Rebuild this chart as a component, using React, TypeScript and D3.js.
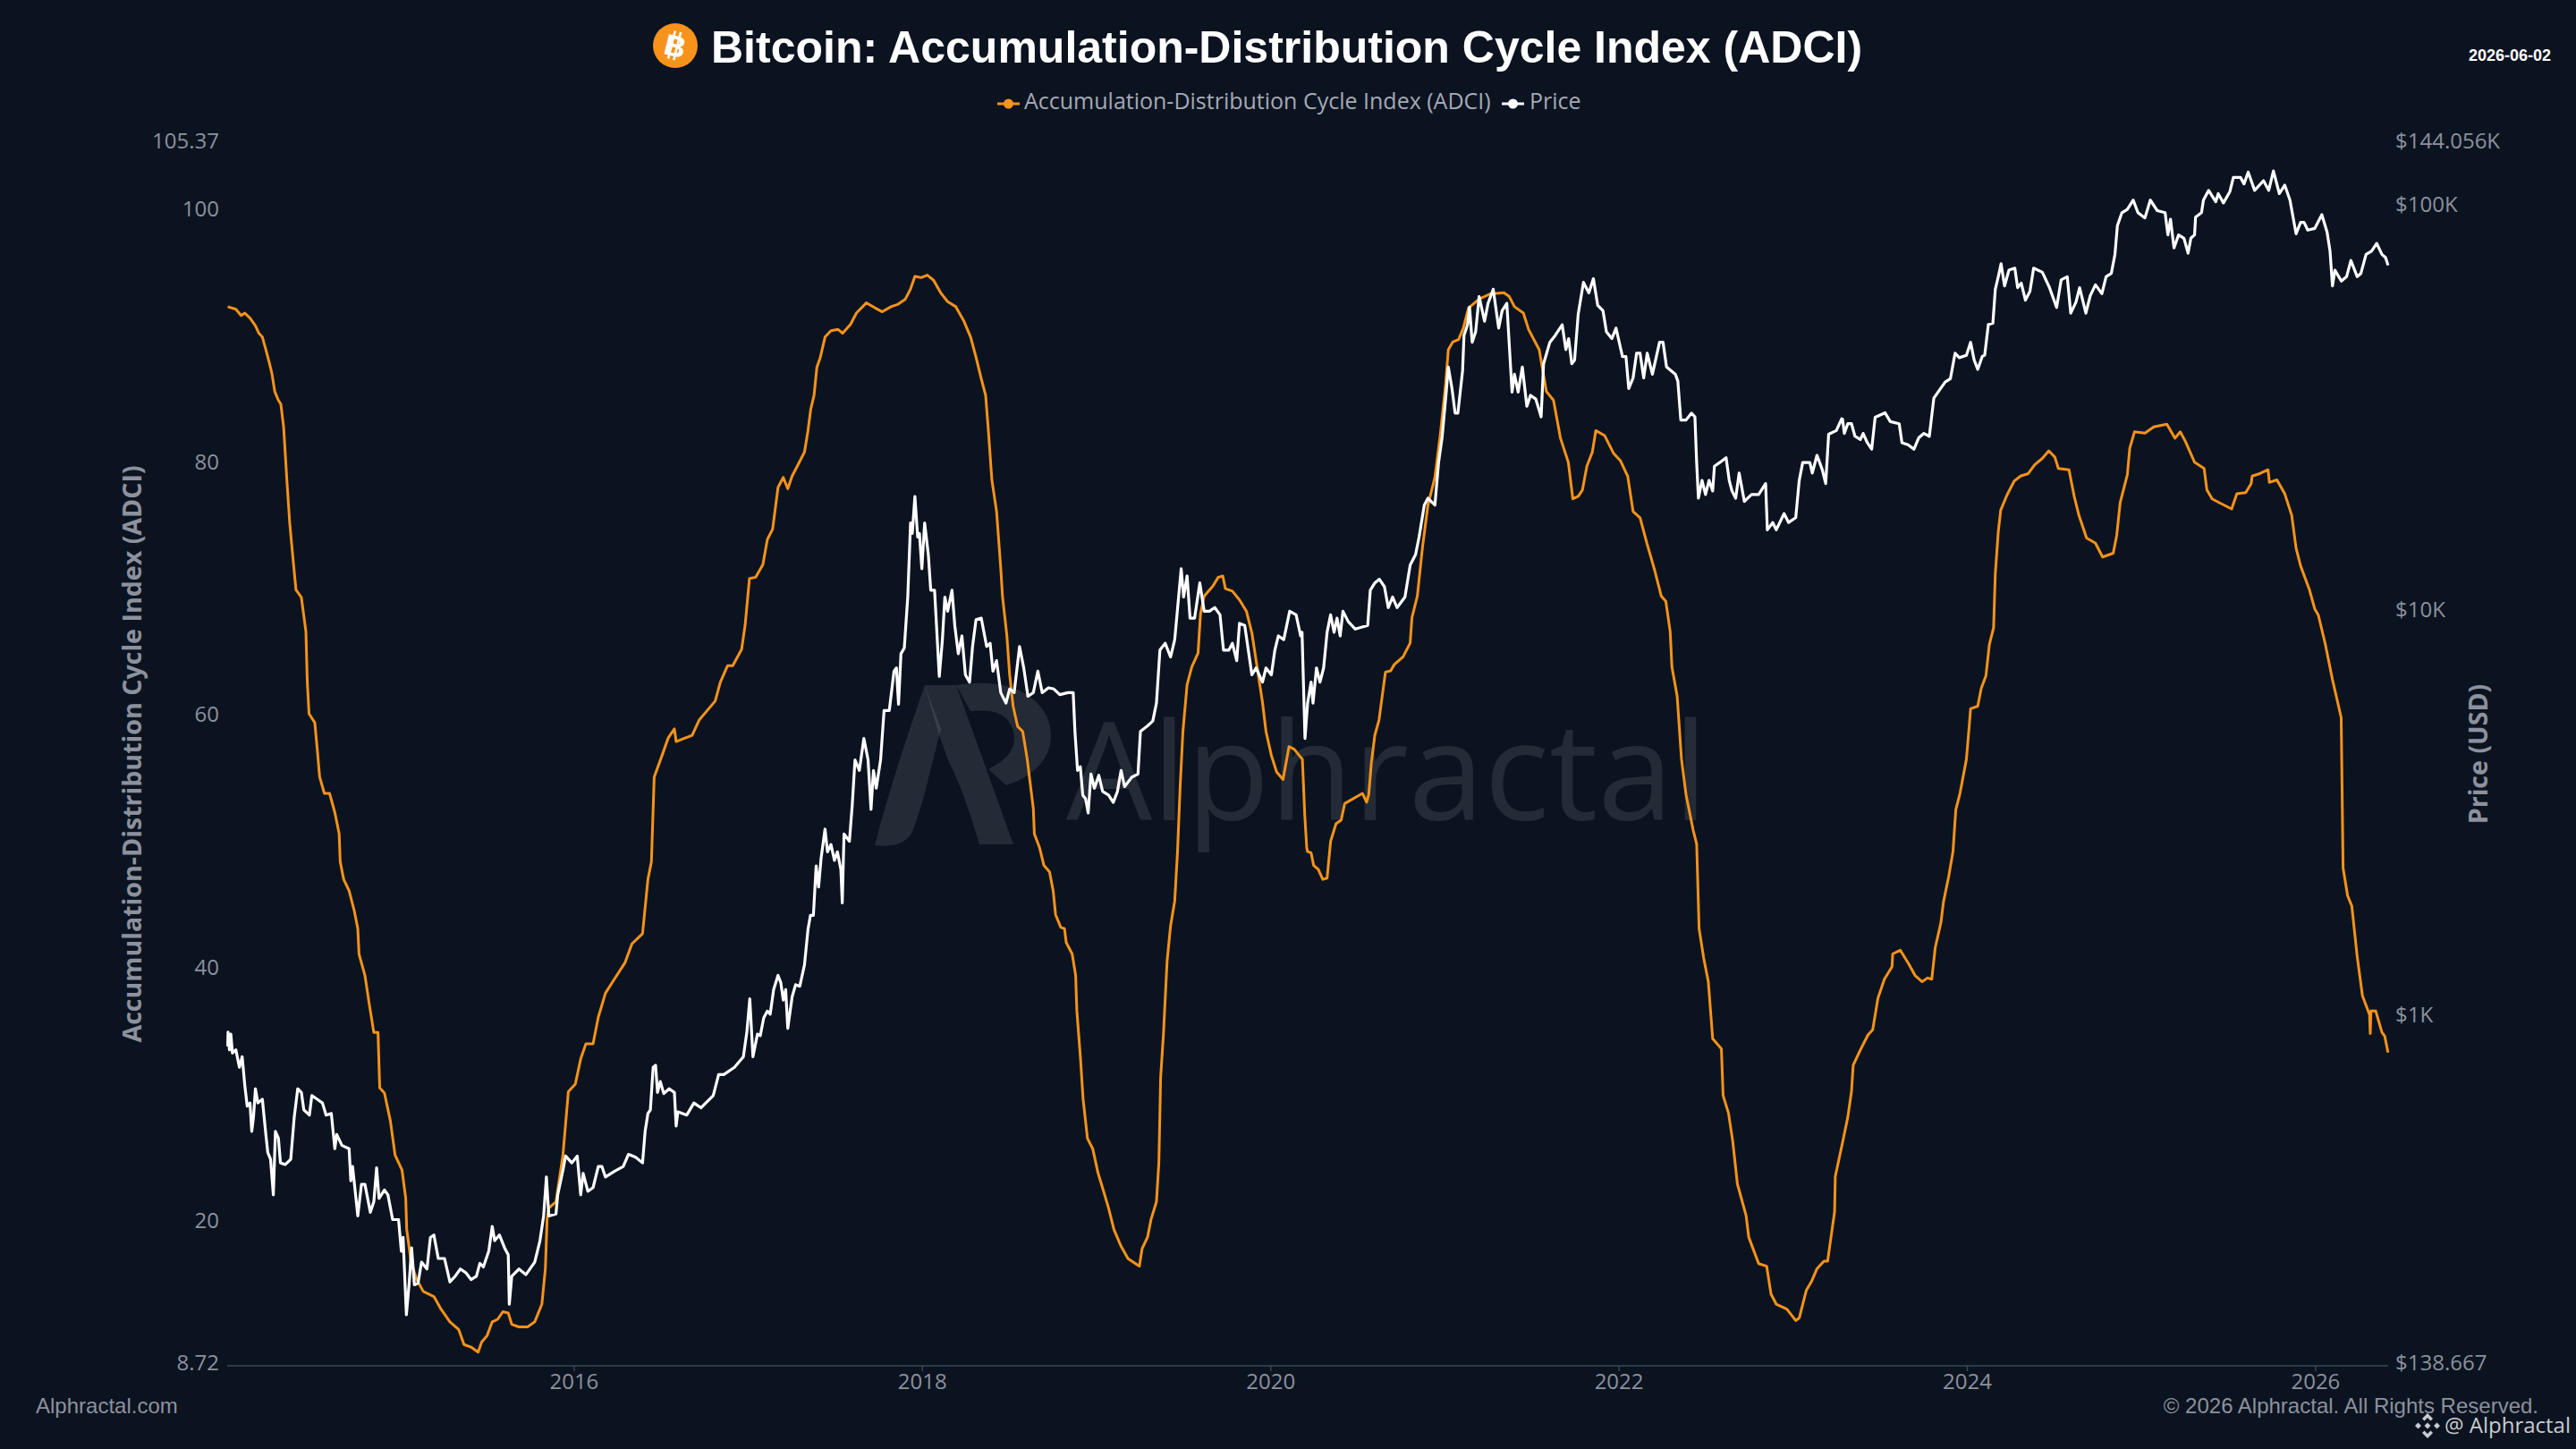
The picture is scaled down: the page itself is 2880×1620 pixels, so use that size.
import React from "react";
import * as d3 from "d3";

type P = [number, number];

// ADCI readings: [decimal year, index value]
const adci2014: P[] = [[2014.003,92.5],[2014.05,92.3],[2014.08,91.8],[2014.101,92],[2014.131,91.6],[2014.162,91],[2014.182,90.4],[2014.202,90.1],[2014.222,89.1],[2014.243,88],[2014.257,87.2],[2014.273,85.8],[2014.294,85.1],[2014.308,84.8],[2014.324,83],[2014.344,78.5],[2014.359,75.4],[2014.379,72.4],[2014.395,70.1],[2014.426,69.5],[2014.452,66.8],[2014.46,62.8],[2014.47,60.3],[2014.503,59.6],[2014.517,57.5],[2014.531,55.3],[2014.558,54],[2014.588,54],[2014.618,52.5],[2014.643,50.8],[2014.649,48.6],[2014.669,47.2],[2014.7,46.3],[2014.73,44.7],[2014.75,43.3],[2014.757,41.3],[2014.791,39.6],[2014.815,37.4],[2014.842,35.1],[2014.866,35.1],[2014.876,30.7],[2014.903,30.3],[2014.937,28.1],[2014.964,25.4],[2015.004,24.2],[2015.025,22],[2015.031,19.5],[2015.055,17],[2015.086,15.6],[2015.126,14.6],[2015.187,14.2],[2015.228,13.2],[2015.279,12.2],[2015.329,11.6],[2015.36,10.4],[2015.4,10.2],[2015.441,9.8],[2015.461,10.6],[2015.492,11.1],[2015.522,12.2],[2015.553,12.4],[2015.583,13],[2015.614,12.9],[2015.634,12],[2015.675,11.8],[2015.725,11.8],[2015.766,12.2],[2015.807,13.6],[2015.827,16.4],[2015.837,20.3],[2015.847,21.2],[2015.888,21.7],[2015.928,25.4],[2015.959,30.4],[2015.999,31],[2016.03,33],[2016.06,34.2],[2016.101,34.2],[2016.131,36.3],[2016.172,38.2],[2016.223,39.3],[2016.284,40.6],[2016.324,42.1],[2016.385,42.9],[2016.416,47.2],[2016.436,48.6],[2016.452,55.3],[2016.497,57],[2016.533,58.4],[2016.568,59.1],[2016.578,58.1],[2016.67,58.6],[2016.71,59.8],[2016.802,61.3],[2016.832,62.8],[2016.873,64.1],[2016.903,64.1],[2016.954,65.4],[2016.974,67.3],[2016.999,71],[2017.035,71.1],[2017.076,72.1]];
const adci2017: P[] = [[2017.102,74.1],[2017.132,74.9],[2017.163,78.2],[2017.193,79],[2017.219,78.1],[2017.244,79.1],[2017.274,79.9],[2017.315,81],[2017.335,82.7],[2017.351,84.4],[2017.37,85.5],[2017.386,87.7],[2017.406,88.5],[2017.433,90.1],[2017.467,90.6],[2017.508,90.7],[2017.534,90.4],[2017.579,91.1],[2017.613,92],[2017.67,92.8],[2017.721,92.4],[2017.762,92.1],[2017.812,92.5],[2017.853,92.7],[2017.894,93.1],[2017.924,93.9],[2017.949,94.9],[2017.985,94.8],[2018.02,95],[2018.056,94.6],[2018.097,93.6],[2018.137,92.9],[2018.184,92.5],[2018.229,91.4],[2018.269,90.1],[2018.3,88.5],[2018.33,86.8],[2018.355,85.5],[2018.371,82.7],[2018.391,78.8],[2018.418,76.3],[2018.442,71.8],[2018.452,69.6],[2018.477,66.5],[2018.493,63.4],[2018.513,60.9],[2018.539,59.3],[2018.568,58.9],[2018.594,56.7],[2018.629,52.8],[2018.635,50.8],[2018.665,49.7],[2018.69,48.3],[2018.722,47.8],[2018.743,46.3],[2018.757,44.4],[2018.787,43.4],[2018.808,43.3],[2018.818,42.2],[2018.852,41.3],[2018.872,39.6],[2018.879,36.8],[2018.899,33.2],[2018.915,29.8],[2018.94,26.7],[2018.97,25.9],[2019.0,24],[2019.031,22.6],[2019.061,21.2],[2019.092,19.5],[2019.132,18.2],[2019.173,17.2],[2019.238,16.6],[2019.254,18],[2019.285,18.9],[2019.305,20.3],[2019.336,21.7],[2019.35,24.8],[2019.36,31.5],[2019.376,34.9],[2019.397,40.7],[2019.417,43.5],[2019.441,45.5],[2019.457,49.4],[2019.472,54.5],[2019.488,58.9],[2019.512,62.6],[2019.539,64],[2019.575,65.1],[2019.589,68.2],[2019.61,69.6],[2019.66,70.4],[2019.691,71.1],[2019.717,71.2],[2019.732,70.2],[2019.772,70],[2019.813,69.3],[2019.853,68.4],[2019.884,66.7],[2019.914,64],[2019.945,61.2],[2019.965,58.9],[2019.996,57],[2020.026,55.7],[2020.063,55.1],[2020.097,57.7],[2020.127,57.5],[2020.174,56.7],[2020.188,52.2],[2020.199,49.7]];
const adci2020: P[] = [[2020.204,49.4],[2020.224,49.3],[2020.239,48.3],[2020.265,48],[2020.291,47.2],[2020.316,47.3],[2020.336,50.2],[2020.367,51.6],[2020.397,51.9],[2020.417,53.2],[2020.519,54],[2020.543,53.3],[2020.555,53.9],[2020.57,56.4],[2020.59,58.6],[2020.614,59.8],[2020.651,63.6],[2020.681,63.7],[2020.702,64.2],[2020.752,64.8],[2020.793,65.9],[2020.803,67.9],[2020.834,69.6],[2020.864,73.5],[2020.895,76.8],[2020.935,79],[2020.966,82.4],[2020.996,86.3],[2021.012,89.1],[2021.037,89.7],[2021.071,89.9],[2021.098,90.8],[2021.128,92.4],[2021.189,93.1],[2021.25,93.5],[2021.331,93.6],[2021.362,93.3],[2021.392,92.5],[2021.443,92],[2021.473,90.7],[2021.534,89.1],[2021.575,85.8],[2021.616,85.1],[2021.656,82.1],[2021.701,80.2],[2021.727,77.3],[2021.758,77.5],[2021.782,78],[2021.808,79.9],[2021.839,81],[2021.859,82.7],[2021.91,82.3],[2021.961,80.9],[2022.001,80.3],[2022.042,79.1],[2022.073,76.3],[2022.113,75.8],[2022.154,73.7],[2022.194,71.8],[2022.235,69.6],[2022.261,69.2],[2022.286,66.8],[2022.296,64],[2022.326,61.7],[2022.351,56.7],[2022.377,53.9],[2022.418,51.1],[2022.438,50],[2022.452,43.3],[2022.478,41],[2022.505,39.1],[2022.53,34.6],[2022.58,33.8],[2022.59,30.1],[2022.621,28.7],[2022.645,26.5],[2022.672,23.1],[2022.722,20.6],[2022.737,18.9],[2022.794,16.8],[2022.84,16.6],[2022.865,14.4],[2022.895,13.6],[2022.956,13.2],[2023.007,12.3],[2023.027,12.5],[2023.068,14.7],[2023.098,15.4],[2023.129,16.4],[2023.169,17],[2023.19,17],[2023.23,20.9],[2023.234,23.7]];
const adci2023: P[] = [[2023.276,26.4],[2023.306,28.4],[2023.327,30.4],[2023.337,32.5],[2023.378,33.7],[2023.422,34.9],[2023.449,35.3],[2023.479,37.8],[2023.516,39.3],[2023.56,40.3],[2023.564,41.3],[2023.607,41.6],[2023.656,40.5],[2023.692,39.6],[2023.733,39.1],[2023.763,39.4],[2023.788,39.3],[2023.808,41.8],[2023.841,43.8],[2023.855,45.4],[2023.885,47.4],[2023.91,49.4],[2023.926,52.7],[2023.95,54],[2023.987,56.7],[2024.003,59.3],[2024.011,60.7],[2024.052,60.9],[2024.072,62.3],[2024.099,63.3],[2024.119,65.8],[2024.143,67.1],[2024.153,71.4],[2024.17,74.7],[2024.184,76.4],[2024.22,77.6],[2024.261,78.7],[2024.298,79.1],[2024.342,79.3],[2024.379,80],[2024.423,80.5],[2024.46,81.1],[2024.495,80.6],[2024.515,79.7],[2024.576,79.6],[2024.606,77.5],[2024.633,76],[2024.677,74.2],[2024.728,73.8],[2024.769,72.7],[2024.83,73],[2024.85,74.4],[2024.87,77],[2024.911,79.2],[2024.925,81.3],[2024.952,82.6],[2025.012,82.5],[2025.063,83],[2025.138,83.2],[2025.185,82.1],[2025.215,82.6],[2025.246,81.8],[2025.297,80.2],[2025.352,79.7],[2025.368,78],[2025.398,77.3],[2025.439,77],[2025.51,76.5],[2025.54,77.7],[2025.591,77.8],[2025.622,78.5],[2025.628,79.1],[2025.672,79.3],[2025.719,79.6],[2025.727,78.6],[2025.77,78.8],[2025.815,77.7],[2025.855,76],[2025.88,73.4],[2025.906,72],[2025.957,70.1],[2025.987,68.6],[2026.008,68.1],[2026.048,65.8],[2026.089,63],[2026.139,60],[2026.15,48.1],[2026.176,45.9],[2026.2,45.1],[2026.231,41.1],[2026.261,38],[2026.302,36.5],[2026.306,35],[2026.31,36.8],[2026.337,36.8],[2026.373,35.1],[2026.389,34.8],[2026.408,33.5]];

// Price readings: [decimal year, log10 of USD price]
const price2014: P[] = [[2014.003,2.931],[2014.005,2.966],[2014.013,2.922],[2014.021,2.961],[2014.03,2.914],[2014.05,2.922],[2014.07,2.879],[2014.086,2.905],[2014.101,2.835],[2014.115,2.783],[2014.131,2.791],[2014.141,2.721],[2014.151,2.756],[2014.162,2.826],[2014.176,2.791],[2014.202,2.8],[2014.222,2.713],[2014.233,2.669],[2014.249,2.652],[2014.265,2.564],[2014.277,2.721],[2014.294,2.704],[2014.306,2.643],[2014.334,2.639],[2014.365,2.652],[2014.385,2.756],[2014.405,2.826],[2014.426,2.817],[2014.44,2.774],[2014.472,2.761],[2014.486,2.809],[2014.517,2.8],[2014.547,2.791],[2014.568,2.761],[2014.598,2.765],[2014.618,2.678],[2014.629,2.713],[2014.659,2.686],[2014.7,2.678],[2014.71,2.599],[2014.72,2.634],[2014.75,2.512],[2014.771,2.59],[2014.791,2.59],[2014.822,2.521],[2014.842,2.547],[2014.858,2.631],[2014.872,2.555],[2014.903,2.576],[2014.923,2.564],[2014.95,2.503],[2014.984,2.503],[2015.0,2.425],[2015.01,2.459],[2015.029,2.268],[2015.045,2.346],[2015.059,2.433],[2015.075,2.342],[2015.096,2.346],[2015.116,2.398],[2015.147,2.381],[2015.167,2.459],[2015.187,2.465],[2015.212,2.407],[2015.248,2.407],[2015.279,2.349],[2015.309,2.363],[2015.339,2.381],[2015.37,2.372],[2015.4,2.355],[2015.431,2.363],[2015.451,2.395],[2015.471,2.386],[2015.502,2.425],[2015.522,2.486],[2015.536,2.451],[2015.563,2.465],[2015.593,2.433],[2015.614,2.416],[2015.62,2.294],[2015.634,2.363],[2015.675,2.381],[2015.715,2.367],[2015.766,2.398],[2015.796,2.451],[2015.817,2.512],[2015.833,2.608],[2015.847,2.512],[2015.888,2.517],[2015.898,2.564],[2015.928,2.625],[2015.943,2.66],[2015.979,2.643],[2016.01,2.66],[2016.03,2.564],[2016.044,2.617],[2016.071,2.573],[2016.101,2.582],[2016.131,2.634],[2016.152,2.634],[2016.172,2.608],[2016.223,2.622],[2016.274,2.634],[2016.304,2.664],[2016.345,2.657],[2016.385,2.643],[2016.4,2.721],[2016.416,2.765],[2016.43,2.774],[2016.446,2.879],[2016.46,2.884],[2016.471,2.817],[2016.487,2.844],[2016.507,2.814],[2016.538,2.826],[2016.568,2.817],[2016.578,2.734],[2016.588,2.769],[2016.639,2.761],[2016.68,2.791],[2016.72,2.779],[2016.791,2.809],[2016.822,2.861],[2016.852,2.861],[2016.913,2.879],[2016.964,2.905],[2016.984,2.966],[2017.001,3.048],[2017.019,2.905],[2017.045,2.961]];
const price2017: P[] = [[2017.061,2.957],[2017.081,3.001],[2017.102,3.018],[2017.118,3.01],[2017.138,3.071],[2017.163,3.106],[2017.179,3.088],[2017.193,3.045],[2017.207,3.071],[2017.219,2.975],[2017.244,3.053],[2017.264,3.083],[2017.288,3.079],[2017.315,3.132],[2017.335,3.219],[2017.349,3.254],[2017.366,3.254],[2017.382,3.376],[2017.396,3.324],[2017.41,3.394],[2017.433,3.467],[2017.447,3.411],[2017.467,3.429],[2017.487,3.39],[2017.504,3.411],[2017.524,3.367],[2017.532,3.285],[2017.542,3.455],[2017.573,3.437],[2017.589,3.525],[2017.605,3.638],[2017.63,3.612],[2017.656,3.691],[2017.68,3.638],[2017.697,3.516],[2017.711,3.612],[2017.727,3.568],[2017.752,3.638],[2017.772,3.76],[2017.802,3.76],[2017.829,3.857],[2017.843,3.865],[2017.855,3.775],[2017.869,3.9],[2017.888,3.914],[2017.908,4.04],[2017.924,4.223],[2017.934,4.197],[2017.949,4.288],[2017.965,4.188],[2017.975,4.197],[2017.989,4.11],[2018.005,4.223],[2018.026,4.145],[2018.04,4.057],[2018.062,4.057],[2018.089,3.844],[2018.107,3.935],[2018.121,4.04],[2018.137,4.005],[2018.162,4.057],[2018.178,3.97],[2018.198,3.9],[2018.219,3.944],[2018.239,3.848],[2018.263,3.83],[2018.28,3.918],[2018.3,3.984],[2018.33,3.988],[2018.361,3.918],[2018.381,3.926],[2018.397,3.857],[2018.418,3.883],[2018.442,3.804],[2018.472,3.778],[2018.493,3.813],[2018.519,3.804],[2018.55,3.918],[2018.574,3.865],[2018.598,3.795],[2018.629,3.804],[2018.655,3.857],[2018.68,3.804],[2018.716,3.816],[2018.747,3.813],[2018.781,3.799],[2018.828,3.804],[2018.858,3.804],[2018.868,3.708],[2018.883,3.612],[2018.899,3.621],[2018.913,3.551],[2018.929,3.542],[2018.944,3.507],[2018.96,3.603],[2018.98,3.568],[2019.005,3.6],[2019.027,3.56],[2019.061,3.551],[2019.088,3.533],[2019.112,3.56],[2019.133,3.612],[2019.153,3.572],[2019.194,3.595],[2019.23,3.603],[2019.244,3.708],[2019.285,3.722],[2019.315,3.734],[2019.336,3.778],[2019.356,3.909],[2019.386,3.926],[2019.417,3.892],[2019.441,3.935],[2019.478,4.11],[2019.492,4.04],[2019.512,4.092],[2019.529,3.988],[2019.555,3.988],[2019.585,4.075],[2019.61,4.005],[2019.64,4.005],[2019.671,4.014],[2019.701,3.996],[2019.721,3.909],[2019.752,3.909],[2019.772,3.926],[2019.797,3.883],[2019.813,3.975],[2019.843,3.97],[2019.884,3.848],[2019.908,3.865],[2019.945,3.83],[2019.965,3.865],[2019.996,3.848],[2020.016,3.909],[2020.036,3.944],[2020.067,3.935],[2020.101,4.005],[2020.138,3.996],[2020.164,3.944],[2020.172,3.953],[2020.189,3.691]];
const price2020: P[] = [[2020.204,3.778],[2020.224,3.83],[2020.235,3.778],[2020.255,3.865],[2020.275,3.83],[2020.296,3.865],[2020.316,3.953],[2020.336,3.996],[2020.356,3.953],[2020.373,3.988],[2020.391,3.944],[2020.407,4.005],[2020.438,3.979],[2020.478,3.961],[2020.549,3.97],[2020.564,4.057],[2020.59,4.075],[2020.616,4.084],[2020.645,4.066],[2020.667,4.014],[2020.692,4.04],[2020.718,4.014],[2020.763,4.04],[2020.793,4.119],[2020.824,4.145],[2020.844,4.188],[2020.874,4.267],[2020.895,4.284],[2020.935,4.267],[2020.956,4.372],[2020.976,4.433],[2021.0,4.546],[2021.012,4.608],[2021.033,4.555],[2021.051,4.494],[2021.067,4.494],[2021.094,4.599],[2021.102,4.686],[2021.122,4.712],[2021.134,4.756],[2021.149,4.669],[2021.169,4.695],[2021.189,4.782],[2021.22,4.721],[2021.24,4.765],[2021.27,4.8],[2021.301,4.704],[2021.321,4.747],[2021.348,4.765],[2021.366,4.634],[2021.378,4.546],[2021.392,4.59],[2021.413,4.546],[2021.437,4.608],[2021.463,4.511],[2021.484,4.538],[2021.514,4.529],[2021.545,4.485],[2021.559,4.616],[2021.595,4.669],[2021.626,4.686],[2021.666,4.712],[2021.687,4.651],[2021.703,4.678],[2021.721,4.616],[2021.737,4.625],[2021.758,4.739],[2021.788,4.817],[2021.819,4.791],[2021.845,4.826],[2021.87,4.76],[2021.9,4.747],[2021.92,4.695],[2021.951,4.678],[2021.975,4.704],[2022.012,4.634],[2022.032,4.634],[2022.048,4.555],[2022.073,4.581],[2022.093,4.642],[2022.113,4.642],[2022.134,4.581],[2022.154,4.642],[2022.184,4.59],[2022.225,4.669],[2022.245,4.669],[2022.265,4.608],[2022.316,4.59],[2022.33,4.573],[2022.347,4.477],[2022.377,4.477],[2022.408,4.494],[2022.428,4.485],[2022.438,4.372],[2022.448,4.284],[2022.469,4.328],[2022.489,4.293],[2022.509,4.328],[2022.53,4.302],[2022.54,4.363],[2022.57,4.372],[2022.607,4.384],[2022.625,4.328],[2022.641,4.302],[2022.662,4.284],[2022.682,4.346],[2022.712,4.276],[2022.753,4.293],[2022.794,4.293],[2022.834,4.32],[2022.844,4.206],[2022.875,4.224],[2022.895,4.206],[2022.94,4.246],[2022.966,4.224],[2023.007,4.236],[2023.027,4.328],[2023.047,4.372],[2023.088,4.372],[2023.102,4.346],[2023.129,4.39],[2023.159,4.355],[2023.179,4.32],[2023.196,4.442],[2023.24,4.451],[2023.271,4.48]];
const price2023: P[] = [[2023.276,4.479],[2023.286,4.444],[2023.306,4.468],[2023.327,4.468],[2023.347,4.437],[2023.378,4.429],[2023.394,4.444],[2023.418,4.421],[2023.443,4.405],[2023.463,4.484],[2023.489,4.489],[2023.52,4.495],[2023.55,4.473],[2023.601,4.468],[2023.617,4.421],[2023.652,4.416],[2023.686,4.405],[2023.713,4.433],[2023.743,4.444],[2023.774,4.437],[2023.8,4.531],[2023.834,4.552],[2023.865,4.571],[2023.895,4.579],[2023.922,4.642],[2023.946,4.631],[2023.987,4.637],[2024.011,4.669],[2024.031,4.626],[2024.052,4.602],[2024.078,4.634],[2024.092,4.637],[2024.113,4.713],[2024.139,4.716],[2024.153,4.8],[2024.17,4.831],[2024.186,4.863],[2024.206,4.808],[2024.231,4.847],[2024.265,4.852],[2024.281,4.804],[2024.302,4.815],[2024.326,4.773],[2024.352,4.795],[2024.373,4.852],[2024.423,4.842],[2024.464,4.804],[2024.505,4.755],[2024.531,4.823],[2024.566,4.831],[2024.586,4.741],[2024.616,4.768],[2024.637,4.804],[2024.673,4.741],[2024.698,4.784],[2024.728,4.811],[2024.765,4.789],[2024.789,4.831],[2024.819,4.839],[2024.84,4.886],[2024.854,4.957],[2024.88,4.989],[2024.911,4.997],[2024.945,5.02],[2024.972,4.989],[2025.012,4.976],[2025.043,5.02],[2025.083,4.994],[2025.128,4.989],[2025.144,4.934],[2025.159,4.973],[2025.179,4.902],[2025.205,4.934],[2025.236,4.926],[2025.26,4.889],[2025.276,4.926],[2025.297,4.934],[2025.303,4.978],[2025.337,4.989],[2025.348,5.02],[2025.378,5.044],[2025.419,5.016],[2025.433,5.036],[2025.463,5.013],[2025.5,5.041],[2025.52,5.076],[2025.561,5.076],[2025.581,5.06],[2025.605,5.089],[2025.642,5.044],[2025.693,5.068],[2025.723,5.044],[2025.75,5.092],[2025.784,5.036],[2025.815,5.057],[2025.845,5.02],[2025.88,4.937],[2025.906,4.965],[2025.926,4.965],[2025.947,4.946],[2025.987,4.95],[2026.028,4.984],[2026.058,4.941],[2026.075,4.894],[2026.089,4.808],[2026.103,4.847],[2026.14,4.82],[2026.17,4.831],[2026.195,4.871],[2026.231,4.831],[2026.252,4.839],[2026.282,4.886],[2026.313,4.894],[2026.343,4.913],[2026.373,4.886],[2026.394,4.878],[2026.408,4.859]];

const xTicks = [2016, 2018, 2020, 2022, 2024, 2026];
const leftTicks = [105.37, 100, 80, 60, 40, 20, 8.72];
const leftTickLabels = ["105.37", "100", "80", "60", "40", "20", "8.72"];
const rightTicks = [144056, 100000, 10000, 1000, 138.667];
const rightTickLabels = ["$144.056K", "$100K", "$10K", "$1K", "$138.667"];

const W = 2880, H = 1620;
const LEFT = 254, RIGHT = 2670, TOP = 161, BOTTOM = 1527;
const BG = "#0b1320", ORANGE = "#f7931a", GREY = "#8c919d", AXIS = "#3c4753";
const SANS = "'Open Sans', 'Noto Sans', sans-serif";
const ARIAL = "'Liberation Sans', Arial, sans-serif";

export default function App() {
  const adci = [...adci2014, ...adci2017, ...adci2020, ...adci2023];
  const price: P[] = [...price2014, ...price2017, ...price2020, ...price2023].map(([t, l]) => [t, Math.pow(10, l)]);
  const x = d3.scaleLinear().domain([2014, 2014 + (RIGHT - LEFT) / 194.7]).range([LEFT, RIGHT]);
  const yL = d3.scaleLinear().domain([8.72, 105.37]).range([BOTTOM, TOP]);
  const yR = d3.scaleLog().domain([138.667, 144056]).range([BOTTOM, TOP]);
  const adciPath = d3.line<P>().x(d => x(d[0])).y(d => yL(d[1]))(adci) ?? "";
  const pricePath = d3.line<P>().x(d => x(d[0])).y(d => yR(d[1]))(price) ?? "";
  return (
    <svg width={W} height={H} viewBox={`0 0 ${W} ${H}`} style={{ position: "fixed", left: 0, top: 0, display: "block", background: BG }}>
      <rect width={W} height={H} fill={BG} />
      {/* watermark */}
      <g fill="#ffffff" fillOpacity={0.1}>
        <path d="M1034,766 L1069,766 L1133,944 L1095,944 C1085,910 1075,880 1060,850 L1050,822 Z" />
        <path d="M1034,766 L1052,815 C1040,860 1032,900 1020,930 C1012,945 995,947 978,945 C995,880 1015,820 1034,766 Z" />
        <path d="M1069,766 C1110,760 1150,765 1170,800 C1185,835 1165,865 1125,878 L1105,860 C1125,850 1142,835 1130,810 C1120,792 1100,795 1085,795 Z" />
        <text x={1192} y={917} fontFamily={SANS} fontSize={152} fontWeight={400}>Alphractal</text>
      </g>

      {/* axis */}
      <line x1={LEFT} x2={RIGHT} y1={BOTTOM} y2={BOTTOM} stroke={AXIS} strokeWidth={1.5} />
      {xTicks.map(t => (
        <g key={t}>
          <line x1={x(t) - 1.5} x2={x(t) - 1.5} y1={BOTTOM} y2={BOTTOM + 6} stroke={AXIS} strokeWidth={1.5} />
          <text x={x(t) - 1.5} y={1553} textAnchor="middle" fontFamily={SANS} fontSize={24} fill={GREY}>{t}</text>
        </g>
      ))}
      {leftTicks.map((t, i) => (
        <text key={t} x={245} y={yL(t) + 5} textAnchor="end" fontFamily={SANS} fontSize={24} fill={GREY}>{leftTickLabels[i]}</text>
      ))}
      {rightTicks.map((t, i) => (
        <text key={t} x={2678} y={yR(t) + 4.5} fontFamily={SANS} fontSize={24} fill={GREY}>{rightTickLabels[i]}</text>
      ))}

      {/* axis titles */}
      <text transform="translate(158,843) rotate(-90)" textAnchor="middle" fontFamily={SANS} fontSize={28.6} fontWeight={700} fill={GREY}>Accumulation-Distribution Cycle Index (ADCI)</text>
      <text transform="translate(2781,843) rotate(-90)" textAnchor="middle" fontFamily={SANS} fontSize={28.6} fontWeight={700} fill={GREY}>Price (USD)</text>

      {/* series */}
      <path d={adciPath} fill="none" stroke={ORANGE} strokeWidth={3} strokeLinejoin="round" />
      <path d={pricePath} fill="none" stroke="#ffffff" strokeWidth={3.2} strokeLinejoin="round" />

      {/* title */}
      <circle cx={755} cy={51} r={25} fill={ORANGE} />
      <g transform="translate(755,51) rotate(14)" fill="#ffffff">
        <text y={12} textAnchor="middle" fontFamily={ARIAL} fontSize={33} fontWeight={700}>B</text>
        <rect x={-5.5} y={-16} width={2.6} height={32} />
        <rect x={1} y={-16} width={2.6} height={32} />
      </g>
      <text x={795} y={70} fontFamily={ARIAL} fontSize={50} fontWeight={700} fill="#ffffff">Bitcoin: Accumulation-Distribution Cycle Index (ADCI)</text>
      <text x={2852} y={68} textAnchor="end" fontFamily={ARIAL} fontSize={18} fontWeight={700} fill="#ffffff">2026-06-02</text>

      {/* legend */}
      <line x1={1115} x2={1140} y1={116} y2={116} stroke={ORANGE} strokeWidth={3} />
      <circle cx={1127.5} cy={116} r={5.5} fill={ORANGE} />
      <text x={1145} y={122} fontFamily={SANS} fontSize={25} fill="#a5a9b5">Accumulation-Distribution Cycle Index (ADCI)</text>
      <line x1={1679} x2={1704} y1={116} y2={116} stroke="#ffffff" strokeWidth={3} />
      <circle cx={1691.5} cy={116} r={5.5} fill="#ffffff" />
      <text x={1710} y={122} fontFamily={SANS} fontSize={25} fill="#a5a9b5">Price</text>

      {/* footer */}
      <text x={40} y={1580} fontFamily={ARIAL} fontSize={24} fill={GREY}>Alphractal.com</text>
      <text x={2838} y={1580} textAnchor="end" fontFamily={ARIAL} fontSize={24} fill={GREY}>© 2026 Alphractal. All Rights Reserved.</text>
      <g transform="translate(2714,1594)" fill="#c9cbd0">
        <path d="M0,-14 L6,-8 L3.5,-5.5 L0,-9 L-3.5,-5.5 L-6,-8 Z" />
        <path d="M0,14 L6,8 L3.5,5.5 L0,9 L-3.5,5.5 L-6,8 Z" />
        <path d="M-14,0 L-10.5,-3.5 L-7,0 L-10.5,3.5 Z" />
        <path d="M14,0 L10.5,-3.5 L7,0 L10.5,3.5 Z" />
        <path d="M0,-3.5 L3.5,0 L0,3.5 L-3.5,0 Z" />
      </g>
      <text x={2733} y={1602} fontFamily={SANS} fontSize={24} fill="#c9cbd0">@ Alphractal</text>
    </svg>
  );
}
